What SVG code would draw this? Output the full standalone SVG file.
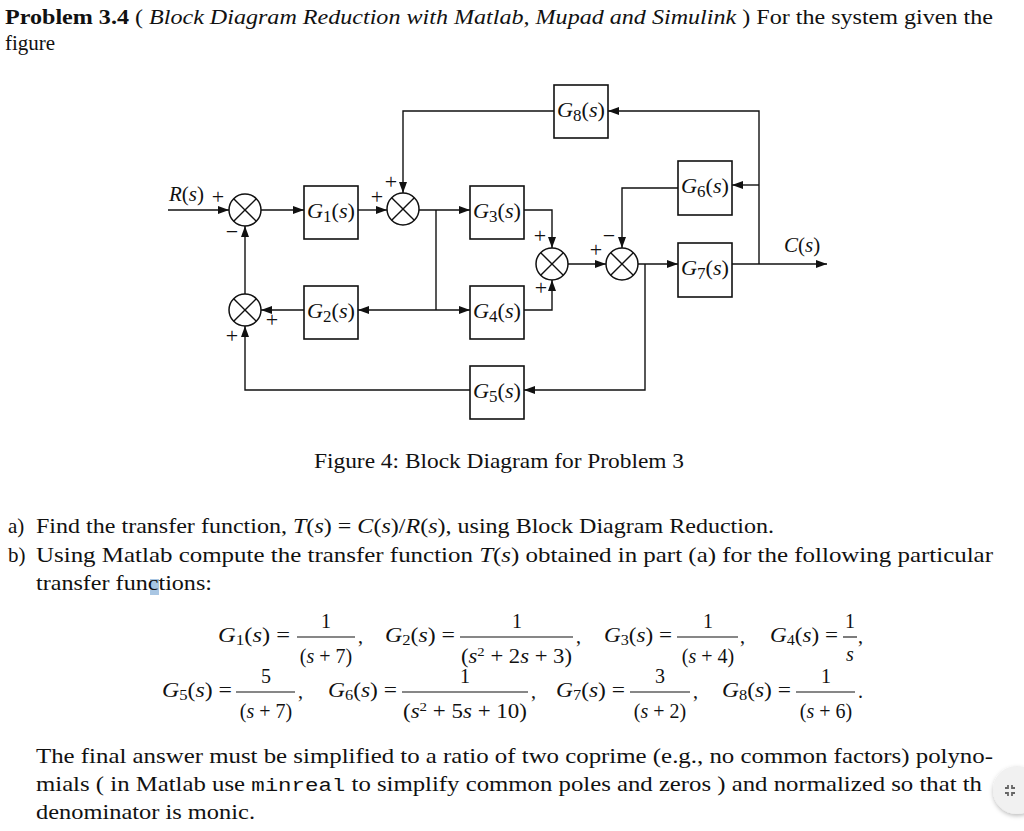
<svg xmlns="http://www.w3.org/2000/svg" width="1024" height="831" viewBox="0 0 1024 831">
<style>
.t{font-family:"Liberation Serif","Times New Roman",serif;font-size:21px;fill:#111}
.eq{font-family:"Liberation Serif","Times New Roman",serif;font-size:20px;fill:#111}
.lb{font-family:"Liberation Serif","Times New Roman",serif;font-size:21px;fill:#111}
.i{font-style:italic}
.sg{font-family:"Liberation Serif","Times New Roman",serif;font-size:22px;fill:#111;text-anchor:middle}
.box{fill:#fff;stroke:#111;stroke-width:1.6}
.sum circle{fill:#fff;stroke:#111;stroke-width:1.5}
.sum line{stroke:#111;stroke-width:1.4}
.c{fill:none;stroke:#111;stroke-width:1.4}
.bar{stroke:#111;stroke-width:1.1}
</style>
<defs>
<marker id="ah" viewBox="0 0 11 8" refX="11" refY="4" markerWidth="11" markerHeight="8" markerUnits="userSpaceOnUse" orient="auto">
<path d="M0,0 L11,4 L0,8 z" fill="#111"/>
</marker>
<filter id="sh" x="-50%" y="-50%" width="200%" height="200%">
<feDropShadow dx="0" dy="2" stdDeviation="2" flood-color="#000" flood-opacity="0.25"/>
</filter>
</defs>
<rect width="1024" height="831" fill="#fff"/>

<!-- header -->
<text class="t" x="5" y="24" textLength="988" lengthAdjust="spacingAndGlyphs"><tspan font-weight="bold">Problem 3.4</tspan> ( <tspan class="i">Block Diagram Reduction with Matlab, Mupad and Simulink</tspan> ) For the system given the</text>
<text class="t" x="5" y="50">figure</text>

<!-- connectors -->
<g id="connectors">
<path class="c" d="M168,210 H229" marker-end="url(#ah)"/>
<path class="c" d="M261,210 H304" marker-end="url(#ah)"/>
<path class="c" d="M358,210 H387" marker-end="url(#ah)"/>
<path class="c" d="M419,210 H470" marker-end="url(#ah)"/>
<path class="c" d="M436,210 V310"/>
<path class="c" d="M436,310 H358" marker-end="url(#ah)"/>
<path class="c" d="M436,310 H470" marker-end="url(#ah)"/>
<path class="c" d="M304,310 H261" marker-end="url(#ah)"/>
<path class="c" d="M245,294 V226" marker-end="url(#ah)"/>
<path class="c" d="M470,390 H245 V326" marker-end="url(#ah)"/>
<path class="c" d="M524,210 H552 V248" marker-end="url(#ah)"/>
<path class="c" d="M524,310 H552 V280" marker-end="url(#ah)"/>
<path class="c" d="M568,264 H606" marker-end="url(#ah)"/>
<path class="c" d="M638,264 H678" marker-end="url(#ah)"/>
<path class="c" d="M645,264 V390 H524" marker-end="url(#ah)"/>
<path class="c" d="M732,264 H827" marker-end="url(#ah)"/>
<path class="c" d="M759,264 V111 H608" marker-end="url(#ah)"/>
<path class="c" d="M759,185 H732" marker-end="url(#ah)"/>
<path class="c" d="M678,188 H622 V248" marker-end="url(#ah)"/>
<path class="c" d="M554,111 H403 V193" marker-end="url(#ah)"/>
</g>

<!-- summing junctions -->
<g id="sum1" class="sum"><circle cx="245" cy="210" r="16"/><line x1="233.7" y1="198.7" x2="256.3" y2="221.3"/><line x1="233.7" y1="221.3" x2="256.3" y2="198.7"/></g>
<g id="sum2" class="sum"><circle cx="403" cy="209" r="16"/><line x1="391.7" y1="197.7" x2="414.3" y2="220.3"/><line x1="391.7" y1="220.3" x2="414.3" y2="197.7"/></g>
<g id="sum3" class="sum"><circle cx="552" cy="264" r="16"/><line x1="540.7" y1="252.7" x2="563.3" y2="275.3"/><line x1="540.7" y1="275.3" x2="563.3" y2="252.7"/></g>
<g id="sum4" class="sum"><circle cx="622" cy="264" r="16"/><line x1="610.7" y1="252.7" x2="633.3" y2="275.3"/><line x1="610.7" y1="275.3" x2="633.3" y2="252.7"/></g>
<g id="sum5" class="sum"><circle cx="245" cy="310" r="16"/><line x1="233.7" y1="298.7" x2="256.3" y2="321.3"/><line x1="233.7" y1="321.3" x2="256.3" y2="298.7"/></g>

<!-- signs -->
<g id="signs">
<text class="sg" x="218" y="204">+</text>
<text class="sg" x="232" y="239">−</text>
<text class="sg" x="377" y="204">+</text>
<text class="sg" x="391" y="189">+</text>
<text class="sg" x="540" y="243">+</text>
<text class="sg" x="541" y="295">+</text>
<text class="sg" x="609" y="243">−</text>
<text class="sg" x="596" y="257">+</text>
<text class="sg" x="272" y="327">+</text>
<text class="sg" x="232" y="343">+</text>
</g>

<!-- blocks -->
<g id="G1"><rect class="box" x="304" y="186" width="54" height="53"/><text class="lb" x="307" y="218" textLength="48" lengthAdjust="spacingAndGlyphs"><tspan class="i">G</tspan><tspan font-size="16" dy="4">1</tspan><tspan dy="-4">(</tspan><tspan class="i">s</tspan>)</text></g>
<g id="G2"><rect class="box" x="304" y="286" width="54" height="53"/><text class="lb" x="307" y="318" textLength="48" lengthAdjust="spacingAndGlyphs"><tspan class="i">G</tspan><tspan font-size="16" dy="4">2</tspan><tspan dy="-4">(</tspan><tspan class="i">s</tspan>)</text></g>
<g id="G3"><rect class="box" x="470" y="186" width="54" height="53"/><text class="lb" x="473" y="218" textLength="48" lengthAdjust="spacingAndGlyphs"><tspan class="i">G</tspan><tspan font-size="16" dy="4">3</tspan><tspan dy="-4">(</tspan><tspan class="i">s</tspan>)</text></g>
<g id="G4"><rect class="box" x="470" y="286" width="54" height="53"/><text class="lb" x="473" y="318" textLength="48" lengthAdjust="spacingAndGlyphs"><tspan class="i">G</tspan><tspan font-size="16" dy="4">4</tspan><tspan dy="-4">(</tspan><tspan class="i">s</tspan>)</text></g>
<g id="G5"><rect class="box" x="470" y="366" width="54" height="53"/><text class="lb" x="473" y="398" textLength="48" lengthAdjust="spacingAndGlyphs"><tspan class="i">G</tspan><tspan font-size="16" dy="4">5</tspan><tspan dy="-4">(</tspan><tspan class="i">s</tspan>)</text></g>
<g id="G6"><rect class="box" x="678" y="161" width="54" height="54"/><text class="lb" x="681" y="193" textLength="48" lengthAdjust="spacingAndGlyphs"><tspan class="i">G</tspan><tspan font-size="16" dy="4">6</tspan><tspan dy="-4">(</tspan><tspan class="i">s</tspan>)</text></g>
<g id="G7"><rect class="box" x="678" y="243" width="54" height="54"/><text class="lb" x="681" y="275" textLength="48" lengthAdjust="spacingAndGlyphs"><tspan class="i">G</tspan><tspan font-size="16" dy="4">7</tspan><tspan dy="-4">(</tspan><tspan class="i">s</tspan>)</text></g>
<g id="G8"><rect class="box" x="554" y="85" width="54" height="53"/><text class="lb" x="557" y="117" textLength="48" lengthAdjust="spacingAndGlyphs"><tspan class="i">G</tspan><tspan font-size="16" dy="4">8</tspan><tspan dy="-4">(</tspan><tspan class="i">s</tspan>)</text></g>

<g id="R"><text class="lb" x="169" y="201"><tspan class="i">R</tspan>(<tspan class="i">s</tspan>)</text></g>
<g id="C"><text class="lb" x="784" y="252"><tspan class="i">C</tspan>(<tspan class="i">s</tspan>)</text></g>

<text class="t" x="314" y="468" textLength="370" lengthAdjust="spacingAndGlyphs">Figure 4: Block Diagram for Problem 3</text>

<!-- questions -->
<text class="t" x="8" y="533">a)</text>
<text class="t" x="36" y="533" textLength="738" lengthAdjust="spacingAndGlyphs">Find the transfer function, <tspan class="i">T</tspan>(<tspan class="i">s</tspan>) = <tspan class="i">C</tspan>(<tspan class="i">s</tspan>)/<tspan class="i">R</tspan>(<tspan class="i">s</tspan>), using Block Diagram Reduction.</text>
<text class="t" x="8" y="562">b)</text>
<text class="t" x="36" y="562" textLength="957" lengthAdjust="spacingAndGlyphs">Using Matlab compute the transfer function <tspan class="i">T</tspan>(<tspan class="i">s</tspan>) obtained in part (a) for the following particular</text>
<rect x="150" y="579" width="9" height="16" fill="#a9c6e3"/>
<text class="t" x="36" y="590" textLength="176" lengthAdjust="spacingAndGlyphs">transfer functions:</text>

<!-- equations -->
<g id="eqs">
<text class="eq" x="218" y="642" textLength="72" lengthAdjust="spacingAndGlyphs"><tspan class="i">G</tspan><tspan font-size="14" dy="3">1</tspan><tspan dy="-3">(</tspan><tspan class="i">s</tspan>) =</text>
<text class="eq" x="326" y="628" text-anchor="middle">1</text>
<line class="bar" x1="297" y1="637" x2="355" y2="637"/>
<text class="eq" x="326" y="663" text-anchor="middle">(<tspan class="i">s</tspan> + 7)</text>
<text class="eq" x="358" y="643">,</text>

<text class="eq" x="385" y="642" textLength="70" lengthAdjust="spacingAndGlyphs"><tspan class="i">G</tspan><tspan font-size="14" dy="3">2</tspan><tspan dy="-3">(</tspan><tspan class="i">s</tspan>) =</text>
<text class="eq" x="517" y="628" text-anchor="middle">1</text>
<line class="bar" x1="460" y1="637" x2="573" y2="637"/>
<text class="eq" x="461" y="663" textLength="111" lengthAdjust="spacingAndGlyphs">(<tspan class="i">s</tspan><tspan font-size="13" dy="-7">2</tspan><tspan dy="7"> + 2</tspan><tspan class="i">s</tspan> + 3)</text>
<text class="eq" x="576" y="643">,</text>

<text class="eq" x="604" y="642" textLength="68" lengthAdjust="spacingAndGlyphs"><tspan class="i">G</tspan><tspan font-size="14" dy="3">3</tspan><tspan dy="-3">(</tspan><tspan class="i">s</tspan>) =</text>
<text class="eq" x="708" y="628" text-anchor="middle">1</text>
<line class="bar" x1="677" y1="637" x2="738" y2="637"/>
<text class="eq" x="708" y="663" text-anchor="middle">(<tspan class="i">s</tspan> + 4)</text>
<text class="eq" x="740" y="643">,</text>

<text class="eq" x="770" y="642" textLength="68" lengthAdjust="spacingAndGlyphs"><tspan class="i">G</tspan><tspan font-size="14" dy="3">4</tspan><tspan dy="-3">(</tspan><tspan class="i">s</tspan>) =</text>
<text class="eq" x="850" y="628" text-anchor="middle">1</text>
<line class="bar" x1="843" y1="637" x2="857" y2="637"/>
<text class="eq i" x="850" y="661" text-anchor="middle">s</text>
<text class="eq" x="858" y="643">,</text>

<text class="eq" x="162" y="697" textLength="70" lengthAdjust="spacingAndGlyphs"><tspan class="i">G</tspan><tspan font-size="14" dy="3">5</tspan><tspan dy="-3">(</tspan><tspan class="i">s</tspan>) =</text>
<text class="eq" x="266" y="683" text-anchor="middle">5</text>
<line class="bar" x1="236" y1="692" x2="295" y2="692"/>
<text class="eq" x="266" y="718" text-anchor="middle">(<tspan class="i">s</tspan> + 7)</text>
<text class="eq" x="298" y="698">,</text>

<text class="eq" x="328" y="697" textLength="69" lengthAdjust="spacingAndGlyphs"><tspan class="i">G</tspan><tspan font-size="14" dy="3">6</tspan><tspan dy="-3">(</tspan><tspan class="i">s</tspan>) =</text>
<text class="eq" x="465" y="683" text-anchor="middle">1</text>
<line class="bar" x1="402" y1="692" x2="528" y2="692"/>
<text class="eq" x="403" y="718" textLength="124" lengthAdjust="spacingAndGlyphs">(<tspan class="i">s</tspan><tspan font-size="13" dy="-7">2</tspan><tspan dy="7"> + 5</tspan><tspan class="i">s</tspan> + 10)</text>
<text class="eq" x="531" y="698">,</text>

<text class="eq" x="556" y="697" textLength="69" lengthAdjust="spacingAndGlyphs"><tspan class="i">G</tspan><tspan font-size="14" dy="3">7</tspan><tspan dy="-3">(</tspan><tspan class="i">s</tspan>) =</text>
<text class="eq" x="660" y="683" text-anchor="middle">3</text>
<line class="bar" x1="630" y1="692" x2="690" y2="692"/>
<text class="eq" x="660" y="718" text-anchor="middle">(<tspan class="i">s</tspan> + 2)</text>
<text class="eq" x="693" y="698">,</text>

<text class="eq" x="722" y="697" textLength="69" lengthAdjust="spacingAndGlyphs"><tspan class="i">G</tspan><tspan font-size="14" dy="3">8</tspan><tspan dy="-3">(</tspan><tspan class="i">s</tspan>) =</text>
<text class="eq" x="826" y="683" text-anchor="middle">1</text>
<line class="bar" x1="796" y1="692" x2="855" y2="692"/>
<text class="eq" x="826" y="718" text-anchor="middle">(<tspan class="i">s</tspan> + 6)</text>
<text class="eq" x="858" y="698">.</text>
</g>

<!-- final paragraph -->
<text class="t" x="36" y="763" textLength="957" lengthAdjust="spacingAndGlyphs">The final answer must be simplified to a ratio of two coprime (e.g., no common factors) polyno-</text>
<text class="t" x="36" y="791" textLength="946" lengthAdjust="spacingAndGlyphs">mials ( in Matlab use <tspan font-family="Liberation Mono, monospace" font-size="19">minreal</tspan> to simplify common poles and zeros ) and normalized so that th</text>
<text class="t" x="36" y="819" textLength="219" lengthAdjust="spacingAndGlyphs">denominator is monic.</text>

<!-- overlay button -->
<g id="button">
<circle cx="1017" cy="790" r="24" fill="#f1f1f1" filter="url(#sh)"/>
<path d="M1005,788 H1008 V785 M1012,785 V788 H1015 M1005,793 H1008 V796 M1012,796 V793 H1015" fill="none" stroke="#666" stroke-width="1.8"/>
</g>
</svg>
